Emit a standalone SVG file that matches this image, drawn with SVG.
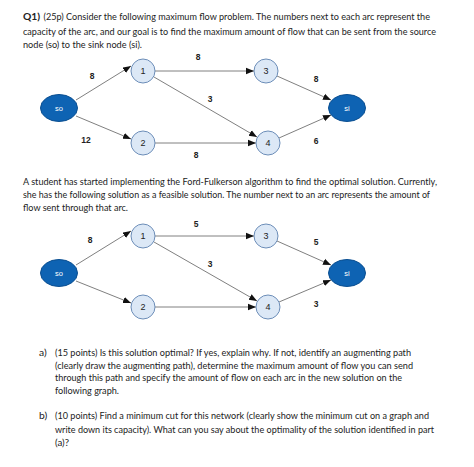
<svg xmlns="http://www.w3.org/2000/svg" width="474" height="467" viewBox="0 0 474 467">
<defs>
<marker id="arr" markerUnits="userSpaceOnUse" markerWidth="8" markerHeight="8" viewBox="0 0 8 8" refX="8" refY="4" orient="auto">
<path d="M0,0.8 L8,4 L0,7.2 Z" fill="#111"/>
</marker>
</defs>
<style>
.t{font-family:Lato,"Liberation Sans",Arial,sans-serif;font-size:10.3px;fill:#222}
.b{font-weight:bold}
.e{stroke:#808080;stroke-width:1;fill:none;marker-end:url(#arr)}
.n{fill:#dce8f6;stroke:#6c8db8;stroke-width:1}
.st{fill:#0e63b3;stroke:#0b4f91;stroke-width:1}
.nl{font-family:"Liberation Sans",Arial,sans-serif;font-size:9px;fill:#222;text-anchor:middle}
.sl{font-family:"Liberation Sans",Arial,sans-serif;font-size:7.5px;fill:#ffffff;text-anchor:middle}
.el{font-family:"Liberation Sans",Arial,sans-serif;font-size:8.5px;font-weight:bold;fill:#222;text-anchor:middle}
</style>
<rect width="474" height="467" fill="#ffffff"/>
<g id="text-top">
<text class="t b" x="23" y="20">Q1)</text>
<text class="t" x="43.5" y="20" textLength="386.5" lengthAdjust="spacingAndGlyphs">(25p) Consider the following maximum flow problem. The numbers next to each arc represent the</text>
<text class="t" x="23" y="34.5" textLength="413" lengthAdjust="spacingAndGlyphs">capacity of the arc, and our goal is to find the maximum amount of flow that can be sent from the source</text>
<text class="t" x="23" y="48" textLength="119" lengthAdjust="spacingAndGlyphs">node (so) to the sink node (si).</text>
</g>
<g id="connectors1">
<line class="e" x1="76" y1="100" x2="131" y2="66"/>
<line class="e" x1="76" y1="116" x2="131" y2="139"/>
<line class="e" x1="155" y1="71" x2="254" y2="71"/>
<line class="e" x1="154" y1="77" x2="257" y2="137"/>
<line class="e" x1="155" y1="143" x2="256" y2="143"/>
<line class="e" x1="277" y1="76" x2="331" y2="100"/>
<line class="e" x1="279" y1="138" x2="331" y2="115"/>
</g>
<g id="labels1">
<text class="el" x="92" y="79">8</text>
<text class="el" x="86" y="143">12</text>
<text class="el" x="198" y="60">8</text>
<text class="el" x="210" y="102">3</text>
<text class="el" x="196" y="158">8</text>
<text class="el" x="316" y="82">8</text>
<text class="el" x="316" y="144">6</text>
</g>
<g id="g1-so"><ellipse class="st" cx="59" cy="108" rx="18.5" ry="13.5"/><text class="sl" x="59" y="110.5">so</text></g>
<g id="g1-n1"><circle class="n" cx="143" cy="71" r="12"/><text class="nl" x="143" y="74.2">1</text></g>
<g id="g1-n2"><circle class="n" cx="143" cy="143" r="12"/><text class="nl" x="143" y="146.2">2</text></g>
<g id="g1-n3"><circle class="n" cx="266" cy="71" r="12"/><text class="nl" x="266" y="74.2">3</text></g>
<g id="g1-n4"><circle class="n" cx="268" cy="143" r="12"/><text class="nl" x="268" y="146.2">4</text></g>
<g id="g1-si"><ellipse class="st" cx="347" cy="108" rx="18.5" ry="13.5"/><text class="sl" x="347" y="110.5">si</text></g>
<g id="text-mid">
<text class="t" x="23" y="185" textLength="414" lengthAdjust="spacingAndGlyphs">A student has started implementing the Ford-Fulkerson algorithm to find the optimal solution. Currently,</text>
<text class="t" x="23" y="198" textLength="407" lengthAdjust="spacingAndGlyphs">she has the following solution as a feasible solution. The number next to an arc represents the amount of</text>
<text class="t" x="23" y="211" textLength="105" lengthAdjust="spacingAndGlyphs">flow sent through that arc.</text>
</g>
<g id="connectors2">
<line class="e" x1="76" y1="265" x2="131" y2="231"/>
<line class="e" x1="76" y1="281" x2="131" y2="303"/>
<line class="e" x1="155" y1="236" x2="254" y2="236"/>
<line class="e" x1="154" y1="242" x2="257" y2="301"/>
<line class="e" x1="155" y1="307" x2="256" y2="307"/>
<line class="e" x1="277" y1="241" x2="331" y2="265"/>
<line class="e" x1="279" y1="302" x2="331" y2="280"/>
</g>
<g id="labels2">
<text class="el" x="90" y="243">8</text>
<text class="el" x="196" y="227">5</text>
<text class="el" x="210" y="267">3</text>
<text class="el" x="316" y="245">5</text>
<text class="el" x="316" y="307">3</text>
</g>
<g id="g2-so"><ellipse class="st" cx="59" cy="273" rx="18.5" ry="13.5"/><text class="sl" x="59" y="275.5">so</text></g>
<g id="g2-n1"><circle class="n" cx="143" cy="236" r="12"/><text class="nl" x="143" y="239.2">1</text></g>
<g id="g2-n2"><circle class="n" cx="143" cy="307" r="12"/><text class="nl" x="143" y="310.2">2</text></g>
<g id="g2-n3"><circle class="n" cx="266" cy="236" r="12"/><text class="nl" x="266" y="239.2">3</text></g>
<g id="g2-n4"><circle class="n" cx="268" cy="307" r="12"/><text class="nl" x="268" y="310.2">4</text></g>
<g id="g2-si"><ellipse class="st" cx="347" cy="273" rx="18.5" ry="13.5"/><text class="sl" x="347" y="275.5">si</text></g>
<g id="text-bottom">
<text class="t" x="39" y="356">a)</text>
<text class="t" x="55" y="356" textLength="356" lengthAdjust="spacingAndGlyphs">(15 points) Is this solution optimal? If yes, explain why. If not, identify an augmenting path</text>
<text class="t" x="55" y="368.5" textLength="358" lengthAdjust="spacingAndGlyphs">(clearly draw the augmenting path), determine the maximum amount of flow you can send</text>
<text class="t" x="55" y="381" textLength="347" lengthAdjust="spacingAndGlyphs">through this path and specify the amount of flow on each arc in the new solution on the</text>
<text class="t" x="55" y="394" textLength="64" lengthAdjust="spacingAndGlyphs">following graph.</text>
<text class="t" x="39" y="419">b)</text>
<text class="t" x="55" y="419" textLength="374" lengthAdjust="spacingAndGlyphs">(10 points) Find a minimum cut for this network (clearly show the minimum cut on a graph and</text>
<text class="t" x="55" y="432.5" textLength="379" lengthAdjust="spacingAndGlyphs">write down its capacity). What can you say about the optimality of the solution identified in part</text>
<text class="t" x="55" y="445.5" textLength="14" lengthAdjust="spacingAndGlyphs">(a)?</text>
</g>
</svg>
